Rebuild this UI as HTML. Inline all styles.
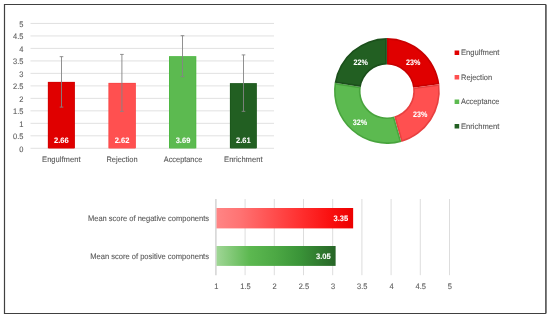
<!DOCTYPE html>
<html><head><meta charset="utf-8"><style>html,body{margin:0;padding:0;background:#fff;overflow:hidden}svg{display:block}text{text-rendering:geometricPrecision}</style></head>
<body><svg width="550" height="318" viewBox="0 0 550 318" font-family='"Liberation Sans", sans-serif'><rect x="0" y="0" width="550" height="318" fill="#fff"/>
<line x1="30.5" y1="148.30" x2="274" y2="148.30" stroke="#d9d9d9" stroke-width="0.8"/>
<text x="23.40" y="151.60" text-anchor="end" font-size="7.9" fill="#595959" stroke="#595959" stroke-width="0.1" textLength="4.16" lengthAdjust="spacingAndGlyphs">0</text>
<line x1="30.5" y1="135.81" x2="274" y2="135.81" stroke="#d9d9d9" stroke-width="0.8"/>
<text x="23.40" y="139.12" text-anchor="end" font-size="7.9" fill="#595959" stroke="#595959" stroke-width="0.1" textLength="10.38" lengthAdjust="spacingAndGlyphs">0.5</text>
<line x1="30.5" y1="123.33" x2="274" y2="123.33" stroke="#d9d9d9" stroke-width="0.8"/>
<text x="23.40" y="126.63" text-anchor="end" font-size="7.9" fill="#595959" stroke="#595959" stroke-width="0.1" textLength="4.16" lengthAdjust="spacingAndGlyphs">1</text>
<line x1="30.5" y1="110.84" x2="274" y2="110.84" stroke="#d9d9d9" stroke-width="0.8"/>
<text x="23.40" y="114.14" text-anchor="end" font-size="7.9" fill="#595959" stroke="#595959" stroke-width="0.1" textLength="10.38" lengthAdjust="spacingAndGlyphs">1.5</text>
<line x1="30.5" y1="98.36" x2="274" y2="98.36" stroke="#d9d9d9" stroke-width="0.8"/>
<text x="23.40" y="101.66" text-anchor="end" font-size="7.9" fill="#595959" stroke="#595959" stroke-width="0.1" textLength="4.16" lengthAdjust="spacingAndGlyphs">2</text>
<line x1="30.5" y1="85.88" x2="274" y2="85.88" stroke="#d9d9d9" stroke-width="0.8"/>
<text x="23.40" y="89.17" text-anchor="end" font-size="7.9" fill="#595959" stroke="#595959" stroke-width="0.1" textLength="10.38" lengthAdjust="spacingAndGlyphs">2.5</text>
<line x1="30.5" y1="73.39" x2="274" y2="73.39" stroke="#d9d9d9" stroke-width="0.8"/>
<text x="23.40" y="76.69" text-anchor="end" font-size="7.9" fill="#595959" stroke="#595959" stroke-width="0.1" textLength="4.16" lengthAdjust="spacingAndGlyphs">3</text>
<line x1="30.5" y1="60.91" x2="274" y2="60.91" stroke="#d9d9d9" stroke-width="0.8"/>
<text x="23.40" y="64.20" text-anchor="end" font-size="7.9" fill="#595959" stroke="#595959" stroke-width="0.1" textLength="10.38" lengthAdjust="spacingAndGlyphs">3.5</text>
<line x1="30.5" y1="48.42" x2="274" y2="48.42" stroke="#d9d9d9" stroke-width="0.8"/>
<text x="23.40" y="51.72" text-anchor="end" font-size="7.9" fill="#595959" stroke="#595959" stroke-width="0.1" textLength="4.16" lengthAdjust="spacingAndGlyphs">4</text>
<line x1="30.5" y1="35.94" x2="274" y2="35.94" stroke="#d9d9d9" stroke-width="0.8"/>
<text x="23.40" y="39.23" text-anchor="end" font-size="7.9" fill="#595959" stroke="#595959" stroke-width="0.1" textLength="10.38" lengthAdjust="spacingAndGlyphs">4.5</text>
<line x1="30.5" y1="23.45" x2="274" y2="23.45" stroke="#d9d9d9" stroke-width="0.8"/>
<text x="23.40" y="26.75" text-anchor="end" font-size="7.9" fill="#595959" stroke="#595959" stroke-width="0.1" textLength="4.16" lengthAdjust="spacingAndGlyphs">5</text>
<rect x="47.85" y="81.88" width="27.05" height="66.42" fill="#d00000"/>
<rect x="48.65" y="82.68" width="25.45" height="65.62" fill="#e00000"/>
<rect x="108.40" y="82.88" width="27.45" height="65.42" fill="#f84646"/>
<rect x="109.20" y="83.68" width="25.85" height="64.62" fill="#ff5050"/>
<rect x="169.00" y="56.16" width="27.30" height="92.14" fill="#4cb840"/>
<rect x="169.80" y="56.96" width="25.70" height="91.34" fill="#5cba50"/>
<rect x="229.90" y="83.13" width="26.95" height="65.17" fill="#1b561b"/>
<rect x="230.70" y="83.93" width="25.35" height="64.37" fill="#225f22"/>
<line x1="61.50" y1="56.66" x2="61.50" y2="107.10" stroke="#858585" stroke-width="0.9"/>
<line x1="59.70" y1="56.66" x2="63.30" y2="56.66" stroke="#858585" stroke-width="0.9"/>
<line x1="59.70" y1="107.10" x2="63.30" y2="107.10" stroke="#858585" stroke-width="0.9"/>
<text x="61.30" y="142.50" text-anchor="middle" font-size="7.9" font-weight="bold" fill="#fff" stroke="#fff" stroke-width="0.08" textLength="14.66" lengthAdjust="spacingAndGlyphs">2.66</text>
<text x="61.30" y="161.80" text-anchor="middle" font-size="7.9" fill="#595959" stroke="#595959" stroke-width="0.1" textLength="38.47" lengthAdjust="spacingAndGlyphs">Engulfment</text>
<line x1="121.90" y1="54.41" x2="121.90" y2="111.34" stroke="#858585" stroke-width="0.9"/>
<line x1="120.10" y1="54.41" x2="123.70" y2="54.41" stroke="#858585" stroke-width="0.9"/>
<line x1="120.10" y1="111.34" x2="123.70" y2="111.34" stroke="#858585" stroke-width="0.9"/>
<text x="122.00" y="142.50" text-anchor="middle" font-size="7.9" font-weight="bold" fill="#fff" stroke="#fff" stroke-width="0.08" textLength="14.66" lengthAdjust="spacingAndGlyphs">2.62</text>
<text x="122.00" y="161.80" text-anchor="middle" font-size="7.9" fill="#595959" stroke="#595959" stroke-width="0.1" textLength="31.10" lengthAdjust="spacingAndGlyphs">Rejection</text>
<line x1="182.50" y1="35.69" x2="182.50" y2="76.64" stroke="#858585" stroke-width="0.9"/>
<line x1="180.70" y1="35.69" x2="184.30" y2="35.69" stroke="#858585" stroke-width="0.9"/>
<line x1="180.70" y1="76.64" x2="184.30" y2="76.64" stroke="#858585" stroke-width="0.9"/>
<text x="183.00" y="142.50" text-anchor="middle" font-size="7.9" font-weight="bold" fill="#fff" stroke="#fff" stroke-width="0.08" textLength="14.66" lengthAdjust="spacingAndGlyphs">3.69</text>
<text x="183.00" y="161.80" text-anchor="middle" font-size="7.9" fill="#595959" stroke="#595959" stroke-width="0.1" textLength="38.46" lengthAdjust="spacingAndGlyphs">Acceptance</text>
<line x1="243.50" y1="54.91" x2="243.50" y2="111.34" stroke="#858585" stroke-width="0.9"/>
<line x1="241.70" y1="54.91" x2="245.30" y2="54.91" stroke="#858585" stroke-width="0.9"/>
<line x1="241.70" y1="111.34" x2="245.30" y2="111.34" stroke="#858585" stroke-width="0.9"/>
<text x="243.30" y="142.50" text-anchor="middle" font-size="7.9" font-weight="bold" fill="#fff" stroke="#fff" stroke-width="0.08" textLength="14.66" lengthAdjust="spacingAndGlyphs">2.61</text>
<text x="243.30" y="161.80" text-anchor="middle" font-size="7.9" fill="#595959" stroke="#595959" stroke-width="0.1" textLength="38.44" lengthAdjust="spacingAndGlyphs">Enrichment</text>
<path d="M386.90,38.10 A52.9,52.9 0 0 1 439.37,84.27 L413.09,87.64 A26.4,26.4 0 0 0 386.90,64.60 Z" fill="#c80000"/>
<path d="M388.50,39.72 A51.3,51.3 0 0 1 437.56,82.89 L414.42,85.86 A28.0,28.0 0 0 0 388.50,63.05 Z" fill="#e00000"/>
<path d="M439.37,84.27 A52.9,52.9 0 0 1 401.35,141.89 L394.11,116.40 A26.4,26.4 0 0 0 413.09,87.64 Z" fill="#e84040"/>
<path d="M437.96,86.07 A51.3,51.3 0 0 1 402.45,139.89 L396.08,117.45 A28.0,28.0 0 0 0 414.83,89.03 Z" fill="#ff5050"/>
<path d="M401.35,141.89 A52.9,52.9 0 0 1 334.63,82.85 L360.82,86.93 A26.4,26.4 0 0 0 394.11,116.40 Z" fill="#48a43d"/>
<path d="M399.37,140.76 A51.3,51.3 0 0 1 335.99,84.68 L359.03,88.27 A28.0,28.0 0 0 0 393.00,118.33 Z" fill="#5cba50"/>
<path d="M334.63,82.85 A52.9,52.9 0 0 1 386.90,38.10 L386.90,64.60 A26.4,26.4 0 0 0 360.82,86.93 Z" fill="#1b4f1b"/>
<path d="M336.48,81.52 A51.3,51.3 0 0 1 385.30,39.72 L385.30,63.05 A28.0,28.0 0 0 0 359.53,85.11 Z" fill="#225f22"/>
<text x="413.10" y="64.70" text-anchor="middle" font-size="7.9" font-weight="bold" fill="#fff" stroke="#fff" stroke-width="0.08" textLength="14.29" lengthAdjust="spacingAndGlyphs">23%</text>
<text x="420.20" y="116.50" text-anchor="middle" font-size="7.9" font-weight="bold" fill="#fff" stroke="#fff" stroke-width="0.08" textLength="14.29" lengthAdjust="spacingAndGlyphs">23%</text>
<text x="360.00" y="125.00" text-anchor="middle" font-size="7.9" font-weight="bold" fill="#fff" stroke="#fff" stroke-width="0.08" textLength="14.29" lengthAdjust="spacingAndGlyphs">32%</text>
<text x="360.70" y="64.70" text-anchor="middle" font-size="7.9" font-weight="bold" fill="#fff" stroke="#fff" stroke-width="0.08" textLength="14.29" lengthAdjust="spacingAndGlyphs">22%</text>
<rect x="454.6" y="50.50" width="4.6" height="4.5" fill="#e00000"/>
<text x="461.00" y="55.15" text-anchor="start" font-size="7.9" fill="#595959" stroke="#595959" stroke-width="0.1" textLength="38.47" lengthAdjust="spacingAndGlyphs">Engulfment</text>
<rect x="454.6" y="75.00" width="4.6" height="4.5" fill="#ff5050"/>
<text x="461.00" y="79.65" text-anchor="start" font-size="7.9" fill="#595959" stroke="#595959" stroke-width="0.1" textLength="31.10" lengthAdjust="spacingAndGlyphs">Rejection</text>
<rect x="454.6" y="99.50" width="4.6" height="4.5" fill="#5cba50"/>
<text x="461.00" y="104.15" text-anchor="start" font-size="7.9" fill="#595959" stroke="#595959" stroke-width="0.1" textLength="38.46" lengthAdjust="spacingAndGlyphs">Acceptance</text>
<rect x="454.6" y="124.00" width="4.6" height="4.5" fill="#225f22"/>
<text x="461.00" y="128.65" text-anchor="start" font-size="7.9" fill="#595959" stroke="#595959" stroke-width="0.1" textLength="38.44" lengthAdjust="spacingAndGlyphs">Enrichment</text>
<line x1="215.90" y1="199" x2="215.90" y2="275.2" stroke="#d0d0d0" stroke-width="1.4"/>
<text x="216.30" y="289.00" text-anchor="middle" font-size="7.9" fill="#595959" stroke="#595959" stroke-width="0.1" textLength="4.16" lengthAdjust="spacingAndGlyphs">1</text>
<line x1="245.10" y1="199" x2="245.10" y2="275.2" stroke="#d9d9d9" stroke-width="0.9"/>
<text x="245.50" y="289.00" text-anchor="middle" font-size="7.9" fill="#595959" stroke="#595959" stroke-width="0.1" textLength="10.38" lengthAdjust="spacingAndGlyphs">1.5</text>
<line x1="274.30" y1="199" x2="274.30" y2="275.2" stroke="#d9d9d9" stroke-width="0.9"/>
<text x="274.70" y="289.00" text-anchor="middle" font-size="7.9" fill="#595959" stroke="#595959" stroke-width="0.1" textLength="4.16" lengthAdjust="spacingAndGlyphs">2</text>
<line x1="303.50" y1="199" x2="303.50" y2="275.2" stroke="#d9d9d9" stroke-width="0.9"/>
<text x="303.90" y="289.00" text-anchor="middle" font-size="7.9" fill="#595959" stroke="#595959" stroke-width="0.1" textLength="10.38" lengthAdjust="spacingAndGlyphs">2.5</text>
<line x1="332.70" y1="199" x2="332.70" y2="275.2" stroke="#d9d9d9" stroke-width="0.9"/>
<text x="333.10" y="289.00" text-anchor="middle" font-size="7.9" fill="#595959" stroke="#595959" stroke-width="0.1" textLength="4.16" lengthAdjust="spacingAndGlyphs">3</text>
<line x1="361.90" y1="199" x2="361.90" y2="275.2" stroke="#d9d9d9" stroke-width="0.9"/>
<text x="362.30" y="289.00" text-anchor="middle" font-size="7.9" fill="#595959" stroke="#595959" stroke-width="0.1" textLength="10.38" lengthAdjust="spacingAndGlyphs">3.5</text>
<line x1="391.10" y1="199" x2="391.10" y2="275.2" stroke="#d9d9d9" stroke-width="0.9"/>
<text x="391.50" y="289.00" text-anchor="middle" font-size="7.9" fill="#595959" stroke="#595959" stroke-width="0.1" textLength="4.16" lengthAdjust="spacingAndGlyphs">4</text>
<line x1="420.30" y1="199" x2="420.30" y2="275.2" stroke="#d9d9d9" stroke-width="0.9"/>
<text x="420.70" y="289.00" text-anchor="middle" font-size="7.9" fill="#595959" stroke="#595959" stroke-width="0.1" textLength="10.38" lengthAdjust="spacingAndGlyphs">4.5</text>
<line x1="449.50" y1="199" x2="449.50" y2="275.2" stroke="#d9d9d9" stroke-width="0.9"/>
<text x="449.90" y="289.00" text-anchor="middle" font-size="7.9" fill="#595959" stroke="#595959" stroke-width="0.1" textLength="4.16" lengthAdjust="spacingAndGlyphs">5</text>
<defs><linearGradient id="gr" x1="0" x2="1" y1="0" y2="0"><stop offset="0" stop-color="#ff8585"/><stop offset="0.17" stop-color="#ff7373"/><stop offset="0.61" stop-color="#ff3030"/><stop offset="0.83" stop-color="#fa1010"/><stop offset="1" stop-color="#ec0000"/></linearGradient><linearGradient id="gg" x1="0" x2="1" y1="0" y2="0"><stop offset="0" stop-color="#a0d696"/><stop offset="0.28" stop-color="#5cb850"/><stop offset="0.5" stop-color="#4ca844"/><stop offset="0.7" stop-color="#3a9438"/><stop offset="1" stop-color="#276527"/></linearGradient></defs>
<rect x="216.50" y="208.0" width="136.64" height="20.40" fill="url(#gr)"/>
<text x="348.14" y="221.10" text-anchor="end" font-size="7.9" font-weight="bold" fill="#fff" stroke="#fff" stroke-width="0.08" textLength="14.66" lengthAdjust="spacingAndGlyphs">3.35</text>
<text x="209.00" y="220.70" text-anchor="end" font-size="7.9" fill="#595959" stroke="#595959" stroke-width="0.1" textLength="121.03" lengthAdjust="spacingAndGlyphs">Mean score of negative components</text>
<rect x="216.50" y="246.0" width="119.12" height="19.90" fill="url(#gg)"/>
<text x="330.62" y="258.85" text-anchor="end" font-size="7.9" font-weight="bold" fill="#fff" stroke="#fff" stroke-width="0.08" textLength="14.66" lengthAdjust="spacingAndGlyphs">3.05</text>
<text x="209.00" y="258.80" text-anchor="end" font-size="7.9" fill="#595959" stroke="#595959" stroke-width="0.1" textLength="118.80" lengthAdjust="spacingAndGlyphs">Mean score of positive components</text>
<path d="M545.9,4.5 V313.5" fill="none" stroke="#5a5a5a" stroke-width="1.7"/>
<path d="M545.9,4.5 H4.5 V313.5 H545.9" fill="none" stroke="#404040" stroke-width="1.2"/></svg></body></html>
